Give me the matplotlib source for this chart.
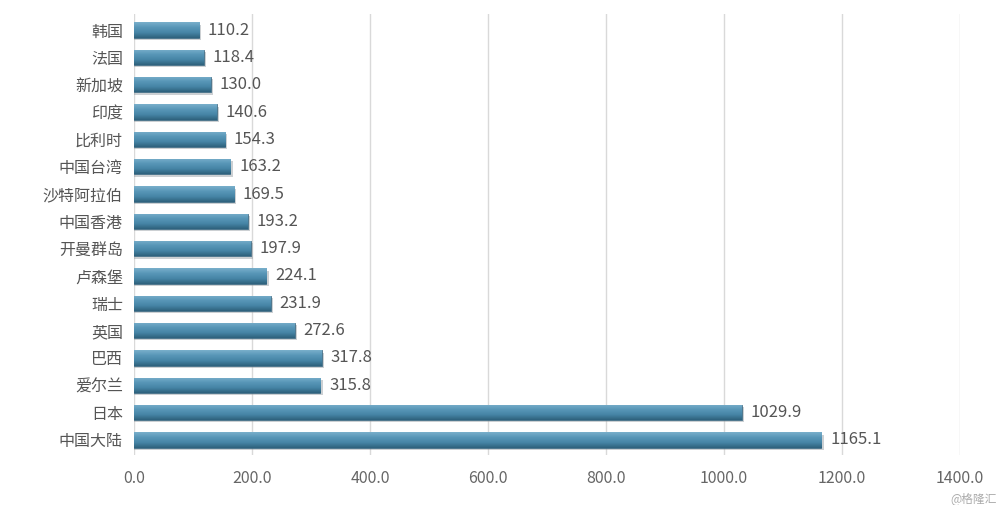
import matplotlib
matplotlib.use('Agg')
import matplotlib.pyplot as plt
import numpy as np
from matplotlib.colors import LinearSegmentedColormap

plt.rcParams['font.family'] = ['Noto Sans CJK SC', 'DejaVu Sans']

# data, top to bottom
regions = ['韩国', '法国', '新加坡', '印度', '比利时', '中国台湾', '沙特阿拉伯', '中国香港',
           '开曼群岛', '卢森堡', '瑞士', '英国', '巴西', '爱尔兰', '日本', '中国大陆']
values = [110.2, 118.4, 130.0, 140.6, 154.3, 163.2, 169.5, 193.2,
          197.9, 224.1, 231.9, 272.6, 317.8, 315.8, 1029.9, 1165.1]
xticks = [0, 200, 400, 600, 800, 1000, 1200, 1400]

fig = plt.figure(figsize=(10, 5.05), dpi=100)
ax = fig.add_axes([0.134, 0.099, 0.826, 0.874])

y = np.arange(len(regions))
h = 0.56

# soft shadow behind each bar
ax.barh(y + 0.08, np.array(values) + 4, height=h, left=0,
        color='#8e979e', alpha=0.45, zorder=2, linewidth=0)

bars = ax.barh(y, values, height=h, color='none', edgecolor='#3a6882',
               linewidth=0.6, zorder=3)

# cylinder-like shading: light top, darker bottom
cmap = LinearSegmentedColormap.from_list('cyl', ['#79afcb', '#5896b7', '#4685a6', '#2e617c'])
grad = np.linspace(0, 1, 64).reshape(-1, 1)
for b in bars:
    x0, y0 = b.get_x(), b.get_y()
    w, hh = b.get_width(), b.get_height()
    im = ax.imshow(grad, cmap=cmap, aspect='auto', zorder=3,
                   extent=[x0, x0 + w, y0 + hh, y0], interpolation='bilinear')
    im.set_clip_path(b)

for yi, v in zip(y, values):
    ax.text(v + 15, yi, f'{v:.1f}', va='center', ha='left',
            fontsize=12, color='#555555', zorder=4)

ax.set_xlim(0, 1400)
ax.set_ylim(15.55, -0.6)
ax.set_xticks(xticks)
ax.set_xticklabels([f'{t:.1f}' for t in xticks], fontsize=11.5, color='#666666')
ax.set_yticks(y)
ax.set_yticklabels(regions, fontsize=11.5, color='#555555')
ax.tick_params(axis='both', length=0)
ax.tick_params(axis='x', pad=11)
ax.tick_params(axis='y', pad=8)
for s in ax.spines.values():
    s.set_visible(False)
ax.grid(axis='x', color='#d9d9d9', linewidth=1, zorder=0)
ax.set_axisbelow(True)

fig.text(0.997, 0.0, '@格隆汇', ha='right', va='bottom', fontsize=8.5, color='#aaaaaa')

fig.savefig('out.png', dpi=100, facecolor='white')
